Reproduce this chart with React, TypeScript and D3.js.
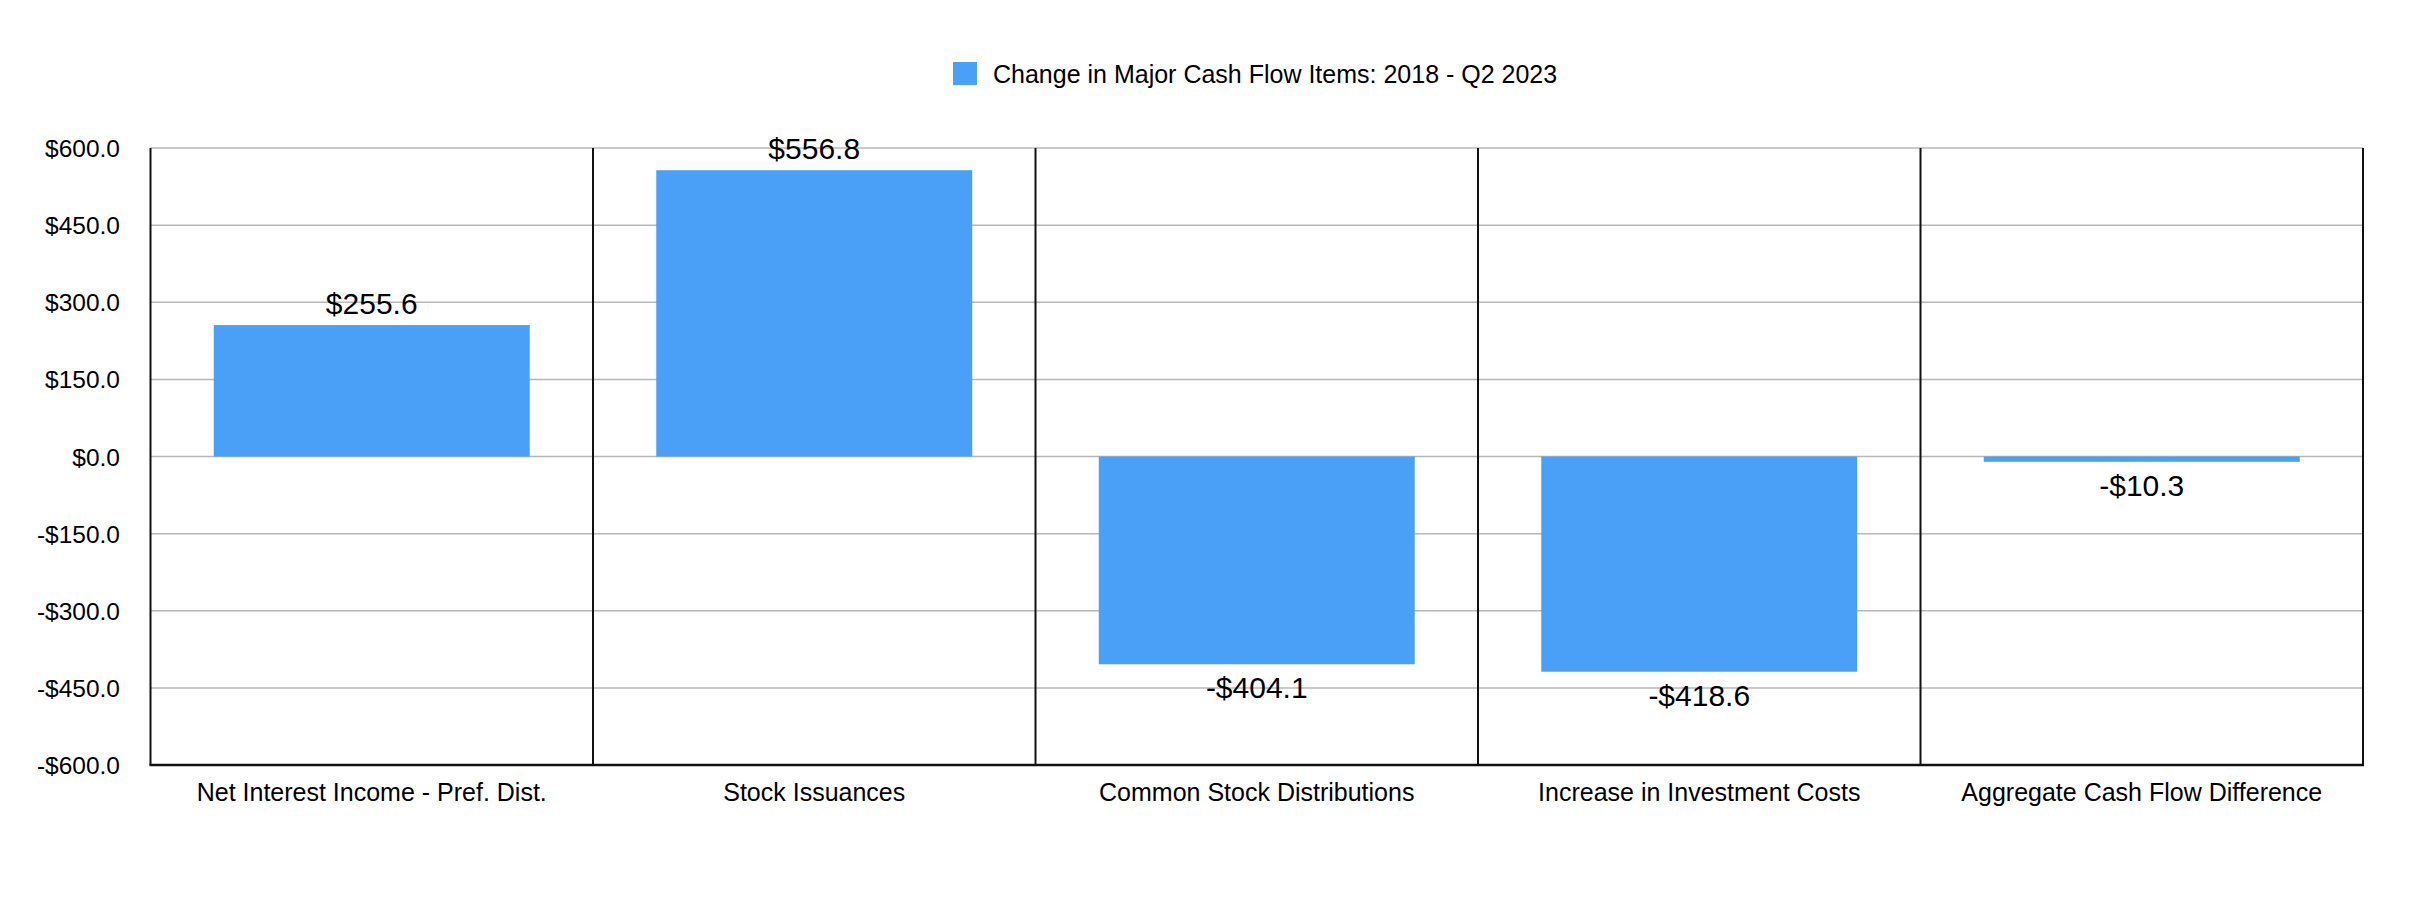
import { useEffect, useRef } from 'react';
import * as d3 from 'd3';

const categories = [
  'Net Interest Income - Pref. Dist.',
  'Stock Issuances',
  'Common Stock Distributions',
  'Increase in Investment Costs',
  'Aggregate Cash Flow Difference'
];
const values = [255.6, 556.8, -404.1, -418.6, -10.3];
const yTicks = [-600, -450, -300, -150, 0, 150, 300, 450, 600];
const seriesName = 'Change in Major Cash Flow Items: 2018 - Q2 2023';

const WIDTH = 2426;
const HEIGHT = 898;
const BAR_COLOR = '#4a9ff7';
const FONT = '"Liberation Sans", Arial, Helvetica, sans-serif';

const money = (v: number) => (v < 0 ? '-$' : '$') + d3.format('.1f')(Math.abs(v));

export default function App() {
  const svgRef = useRef<SVGSVGElement>(null);

  useEffect(() => {
    if (!svgRef.current) return;
    const svg = d3.select(svgRef.current);
    svg.selectAll('*').remove();

    const margin = { top: 148, right: 63, bottom: 133, left: 150.5 };
    const innerWidth = WIDTH - margin.left - margin.right;
    const innerHeight = HEIGHT - margin.top - margin.bottom;

    const g = svg.append('g')
      .attr('transform', `translate(${margin.left},${margin.top})`);

    const xScale = d3.scaleBand<string>()
      .domain(categories)
      .range([0, innerWidth])
      .padding(0);

    const yScale = d3.scaleLinear()
      .domain([-600, 600])
      .range([innerHeight, 0]);

    const barWidth = xScale.bandwidth() * 0.714;

    // Grid lines
    g.append('g')
      .selectAll('line')
      .data(yTicks)
      .enter()
      .append('line')
      .attr('x1', 0)
      .attr('x2', innerWidth)
      .attr('y1', d => yScale(d))
      .attr('y2', d => yScale(d))
      .attr('stroke', '#b8b8b8')
      .attr('stroke-width', 1.5);

    // Y tick labels
    g.append('g')
      .selectAll('text')
      .data(yTicks)
      .enter()
      .append('text')
      .attr('x', -30.5)
      .attr('y', d => yScale(d) + 9)
      .attr('text-anchor', 'end')
      .attr('font-family', FONT)
      .attr('font-size', '24.5px')
      .attr('fill', '#000')
      .text(d => money(d));

    // Bars
    g.append('g')
      .selectAll('rect')
      .data(values)
      .enter()
      .append('rect')
      .attr('x', (_, i) => (xScale(categories[i]) as number) + (xScale.bandwidth() - barWidth) / 2)
      .attr('y', d => yScale(Math.max(0, d)))
      .attr('width', barWidth)
      .attr('height', d => Math.abs(yScale(d) - yScale(0)))
      .attr('fill', BAR_COLOR);

    // Section separators
    g.append('g')
      .selectAll('line')
      .data(categories.slice(1))
      .enter()
      .append('line')
      .attr('x1', d => xScale(d) as number)
      .attr('x2', d => xScale(d) as number)
      .attr('y1', 0)
      .attr('y2', innerHeight)
      .attr('stroke', '#111')
      .attr('stroke-width', 2);

    // Left / right edges and bottom axis
    g.append('line')
      .attr('x1', 0).attr('x2', 0)
      .attr('y1', 0).attr('y2', innerHeight)
      .attr('stroke', '#111').attr('stroke-width', 2);
    g.append('line')
      .attr('x1', innerWidth).attr('x2', innerWidth)
      .attr('y1', 0).attr('y2', innerHeight)
      .attr('stroke', '#111').attr('stroke-width', 2);
    g.append('line')
      .attr('x1', -1).attr('x2', innerWidth + 1)
      .attr('y1', innerHeight).attr('y2', innerHeight)
      .attr('stroke', '#111').attr('stroke-width', 2.5);

    // Value labels
    g.append('g')
      .selectAll('text')
      .data(values)
      .enter()
      .append('text')
      .attr('x', (_, i) => (xScale(categories[i]) as number) + xScale.bandwidth() / 2)
      .attr('y', d => (d >= 0 ? yScale(d) - 11 : yScale(d) + 34))
      .attr('text-anchor', 'middle')
      .attr('font-family', FONT)
      .attr('font-size', '30px')
      .attr('fill', '#000')
      .text(d => money(d));

    // Category labels
    g.append('g')
      .selectAll('text')
      .data(categories)
      .enter()
      .append('text')
      .attr('x', d => (xScale(d) as number) + xScale.bandwidth() / 2)
      .attr('y', innerHeight + 36)
      .attr('text-anchor', 'middle')
      .attr('font-family', FONT)
      .attr('font-size', '25px')
      .attr('fill', '#000')
      .text(d => d);

    // Legend
    const legend = svg.append('g').attr('transform', 'translate(953, 62)');
    legend.append('rect')
      .attr('width', 24)
      .attr('height', 23)
      .attr('fill', BAR_COLOR);
    legend.append('text')
      .attr('x', 40)
      .attr('y', 21)
      .attr('font-family', FONT)
      .attr('font-size', '25px')
      .attr('fill', '#000')
      .text(seriesName);
  }, []);

  return (
    <div style={{ position: 'absolute', left: 0, top: 0, width: WIDTH, height: HEIGHT, background: '#fff' }}>
      <svg ref={svgRef} width={WIDTH} height={HEIGHT} style={{ display: 'block' }} />
    </div>
  );
}
